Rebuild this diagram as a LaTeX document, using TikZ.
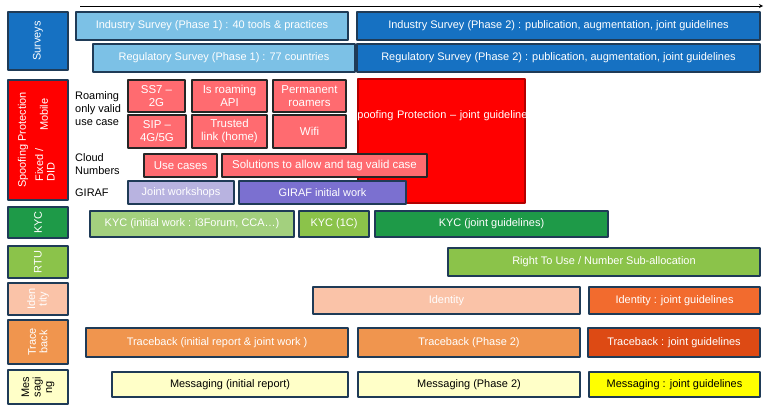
\documentclass[tikz,border=0pt]{standalone}
\usepackage{fontspec}
\setmainfont{Liberation Sans}
\definecolor{edge}{HTML}{1F3B57}
\definecolor{svlight}{HTML}{7CC1E6}
\definecolor{svdark}{HTML}{1671C2}
\definecolor{spred}{HTML}{FF0000}
\definecolor{sppink}{HTML}{FF6B70}
\definecolor{kycdark}{HTML}{1E9A48}
\definecolor{kyclight}{HTML}{A3D07E}
\definecolor{kycmid}{HTML}{8BC34A}
\definecolor{idlight}{HTML}{FAC3A8}
\definecolor{idjoint}{HTML}{F26B2E}
\definecolor{tbmid}{HTML}{F0954E}
\definecolor{tbjoint}{HTML}{DD4A14}
\definecolor{msglight}{HTML}{FFFFC8}
\definecolor{msgjoint}{HTML}{FFFF00}
\definecolor{girlight}{HTML}{B8B3E0}
\definecolor{girdark}{HTML}{7B70D0}
\tikzset{
  bar/.style={draw=edge, line width=1.6pt, text=white, font=\fontsize{11}{12}\selectfont, align=center, inner sep=1pt},
  cat/.style={bar, rotate=90, font=\fontsize{11}{11.5}\selectfont},
  small/.style={bar, draw=black!85, fill=sppink, font=\fontsize{11.5}{13}\selectfont},
  lbl/.style={font=\fontsize{11}{13}\selectfont, align=left, inner sep=0pt, anchor=west}
}
% box from (x1,y1) to (x2,y2), pixel units with y downwards
\newcommand{\bx}[7]{\node[#6, minimum width={(#4-#2)*1bp}, minimum height={(#5-#3)*1bp}] (#1) at ({(#2+#4)/2},{-(#3+#5)/2}) {#7};}
\newcommand{\cbx}[7]{\node[#6, minimum width={(#5-#3)*1bp}, minimum height={(#4-#2)*1bp}] (#1) at ({(#2+#4)/2},{-(#3+#5)/2}) {#7};}
\begin{document}
\begin{tikzpicture}[x=1bp, y=1bp, line join=round, >=stealth]
  \useasboundingbox (0,0) rectangle (768,-410);
  % time arrow
  \coordinate (t0) at (80,-6);
  \coordinate (t1) at (763,-6);
  \draw[->, line width=0.8pt] (t0) -- (t1);

  % categories
  \cbx{surveys}{8}{12}{68}{70}{cat, fill=svdark}{Surveys}
  \cbx{spoof}{8}{80}{68}{200}{cat, fill=spred}{Spoofing Protection\\[6pt]\begin{tabular}{@{}l@{\hspace{1.6em}}c@{}}Fixed /&\raisebox{-0.8ex}[0pt][0pt]{Mobile}\\DID&\end{tabular}}
  \cbx{kyc}{8}{207}{68}{238}{cat, fill=kycdark}{KYC}
  \cbx{rtu}{8}{246}{68}{278}{cat, fill=kycmid}{RTU}
  \cbx{ident}{8}{283}{68}{315}{cat, fill=idlight}{Iden\\tity}
  \cbx{trace}{8}{320}{68}{364}{cat, fill=tbmid}{Trace\\back}
  \cbx{mess}{8}{370}{68}{404}{cat, fill=msglight, text=black}{Mes\\sagi\\ng}

  % surveys
  \bx{indone}{76}{12}{348}{40}{bar, fill=svlight}{Industry Survey (Phase 1) : 40 tools \& practices}
  \bx{indtwo}{357}{12}{760}{40}{bar, fill=svdark}{Industry Survey (Phase 2) : publication, augmentation, joint guidelines}
  \bx{regone}{93}{44}{355}{72}{bar, fill=svlight}{Regulatory Survey (Phase 1) : 77 countries}
  \bx{regtwo}{357}{44}{760}{72}{bar, fill=svdark}{Regulatory Survey (Phase 2) : publication, augmentation, joint guidelines}

  % spoofing protection
  \bx{spjoint}{358}{79}{525}{203}{bar, fill=spred, draw=spred!70!black, text width=160bp}{\raisebox{0pt}[0pt][0pt]{\raisebox{23bp}{\makebox[0pt]{Spoofing Protection -- joint guidelines}}}}
  \node[lbl] (roam) at (75,-109) {Roaming\\only valid\\use case};
  \node[lbl] (cloud) at (75,-164) {Cloud\\Numbers};
  \node[lbl] (giraf) at (75,-193) {GIRAF};
  \bx{ss7}{128}{80}{185}{112}{small}{SS7 --\\2G}
  \bx{isroam}{192}{80}{267}{112}{small}{Is roaming\\API}
  \bx{perm}{273}{80}{346}{112}{small}{Permanent\\roamers}
  \bx{sip}{128}{115}{186}{148}{small}{SIP --\\4G/5G}
  \bx{trust}{192}{115}{267}{148}{small}{Trusted\\link (home)}
  \bx{wifi}{273}{115}{346}{148}{small}{Wifi}
  \bx{usec}{144}{154}{217}{177}{small}{Use cases}
  \bx{solut}{222}{154}{427}{177}{small}{Solutions to allow and tag valid case}
  \bx{jointws}{128}{181}{234}{204}{bar, fill=girlight}{Joint workshops}
  \bx{girinit}{239}{181}{406}{204}{bar, fill=girdark}{GIRAF initial work}

  % KYC
  \bx{kycinit}{90}{211}{294}{237}{bar, fill=kyclight}{KYC (initial work : i3Forum, CCA\dots)}
  \bx{kycone}{299}{211}{369}{237}{bar, fill=kycmid}{KYC (1C)}
  \bx{kycjoint}{375}{211}{608}{237}{bar, fill=kycdark}{KYC (joint guidelines)}

  % RTU
  \bx{rtubar}{448}{248}{760}{276}{bar, fill=kycmid}{Right To Use / Number Sub-allocation}

  % identity
  \bx{idbar}{313}{287}{580}{314}{bar, fill=idlight}{Identity}
  \bx{idjt}{589}{287}{760}{314}{bar, fill=idjoint}{Identity : joint guidelines}

  % traceback
  \bx{tbinit}{86}{328}{348}{357}{bar, fill=tbmid}{Traceback (initial report \& joint work )}
  \bx{tbtwo}{358}{328}{580}{357}{bar, fill=tbmid}{Traceback (Phase 2)}
  \bx{tbjt}{588}{328}{760}{357}{bar, fill=tbjoint}{Traceback : joint guidelines}

  % messaging
  \bx{msinit}{112}{372}{348}{397}{bar, fill=msglight, text=black}{Messaging (initial report)}
  \bx{mstwo}{358}{372}{580}{397}{bar, fill=msglight, text=black}{Messaging (Phase 2)}
  \bx{msjt}{589}{372}{760}{397}{bar, fill=msgjoint, text=black}{Messaging : joint guidelines}
\end{tikzpicture}
\end{document}
